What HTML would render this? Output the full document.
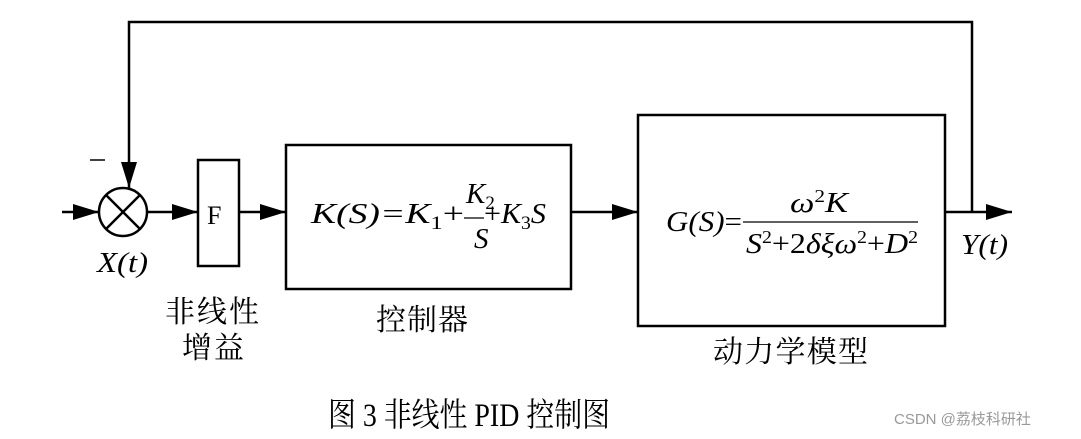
<!DOCTYPE html>
<html><head><meta charset="utf-8"><style>
html,body{margin:0;padding:0;background:#fff;width:1081px;height:439px;overflow:hidden}
svg{display:block}
.s{font-family:"Liberation Serif","Noto Serif CJK SC",serif;fill:#000}
.i{font-style:italic}
</style></head><body>
<svg width="1081" height="439" viewBox="0 0 1081 439">
<defs><marker id="a" markerWidth="26" markerHeight="16" refX="26" refY="8" orient="auto" markerUnits="userSpaceOnUse"><path d="M0,0 L26,8 L0,16 Z" fill="#000"/></marker></defs>
<g stroke="#000" stroke-width="2.5" fill="none">
<line x1="62" y1="212" x2="99" y2="212" marker-end="url(#a)"/>
<circle cx="123" cy="212" r="24"/>
<line x1="106" y1="195" x2="140" y2="229"/><line x1="140" y1="195" x2="106" y2="229"/>
<line x1="147" y1="212" x2="198" y2="212" marker-end="url(#a)"/>
<rect x="198" y="160" width="41" height="106"/>
<line x1="239" y1="212" x2="286" y2="212" marker-end="url(#a)"/>
<rect x="286" y="145" width="285" height="144"/>
<line x1="571" y1="212" x2="638" y2="212" marker-end="url(#a)"/>
<rect x="638" y="115" width="307" height="211"/>
<line x1="945" y1="212" x2="1012" y2="212" marker-end="url(#a)"/>
<polyline points="972,212 972,22 129,22 129,188" marker-end="url(#a)"/>
<line x1="90" y1="160" x2="105" y2="160" stroke-width="1.5"/>
<line x1="464" y1="218" x2="484" y2="218" stroke-width="1.2"/>
<line x1="743" y1="222" x2="918" y2="222" stroke-width="1.2"/>
</g>
<text class="s" x="207" y="224" font-size="26">F</text>
<text class="s i" x="97" y="272" font-size="28" textLength="51" lengthAdjust="spacingAndGlyphs">X(t)</text>
<text class="s" x="165" y="322" font-size="30" textLength="94">非线性</text>
<text class="s" x="182" y="358" font-size="30" textLength="62">增益</text>
<text class="s i" x="311" y="223" font-size="29" textLength="153" lengthAdjust="spacingAndGlyphs">K(S)=K<tspan font-style="normal" font-size="19" dy="6">1</tspan><tspan font-style="normal" dy="-6">+</tspan></text>
<text class="s i" x="466" y="203" font-size="29">K<tspan font-style="normal" font-size="19" dy="6">2</tspan></text>
<text class="s i" x="474" y="248" font-size="29">S</text>
<text class="s i" x="484" y="223" font-size="29" textLength="62" lengthAdjust="spacingAndGlyphs"><tspan font-style="normal">+</tspan>K<tspan font-style="normal" font-size="19" dy="6">3</tspan><tspan dy="-6">S</tspan></text>
<text class="s" x="376" y="330" font-size="30" textLength="92">控制器</text>
<text class="s i" x="666" y="231" font-size="29" textLength="76" lengthAdjust="spacingAndGlyphs">G(S)<tspan font-style="normal">=</tspan></text>
<text class="s i" x="790" y="212" font-size="29" textLength="58" lengthAdjust="spacingAndGlyphs">ω<tspan font-style="normal" font-size="18" dy="-10">2</tspan><tspan dy="10">K</tspan></text>
<text class="s i" x="746" y="253" font-size="29" textLength="172" lengthAdjust="spacingAndGlyphs">S<tspan font-style="normal" font-size="18" dy="-10">2</tspan><tspan font-style="normal" dy="10">+2</tspan>δξω<tspan font-style="normal" font-size="18" dy="-10">2</tspan><tspan font-style="normal" dy="10">+</tspan>D<tspan font-style="normal" font-size="18" dy="-10">2</tspan></text>
<text class="s i" x="961" y="254" font-size="28" textLength="47" lengthAdjust="spacingAndGlyphs">Y(t)</text>
<text class="s" x="713" y="362" font-size="30" textLength="155">动力学模型</text>
<text class="s" x="328" y="426" font-size="33" textLength="282" lengthAdjust="spacingAndGlyphs">图 3  非线性 PID 控制图</text>
<text x="894" y="424" font-size="15" fill="#999" font-family="Liberation Sans,'Noto Sans CJK SC',sans-serif">CSDN @荔枝科研社</text>
</svg>
</body></html>
